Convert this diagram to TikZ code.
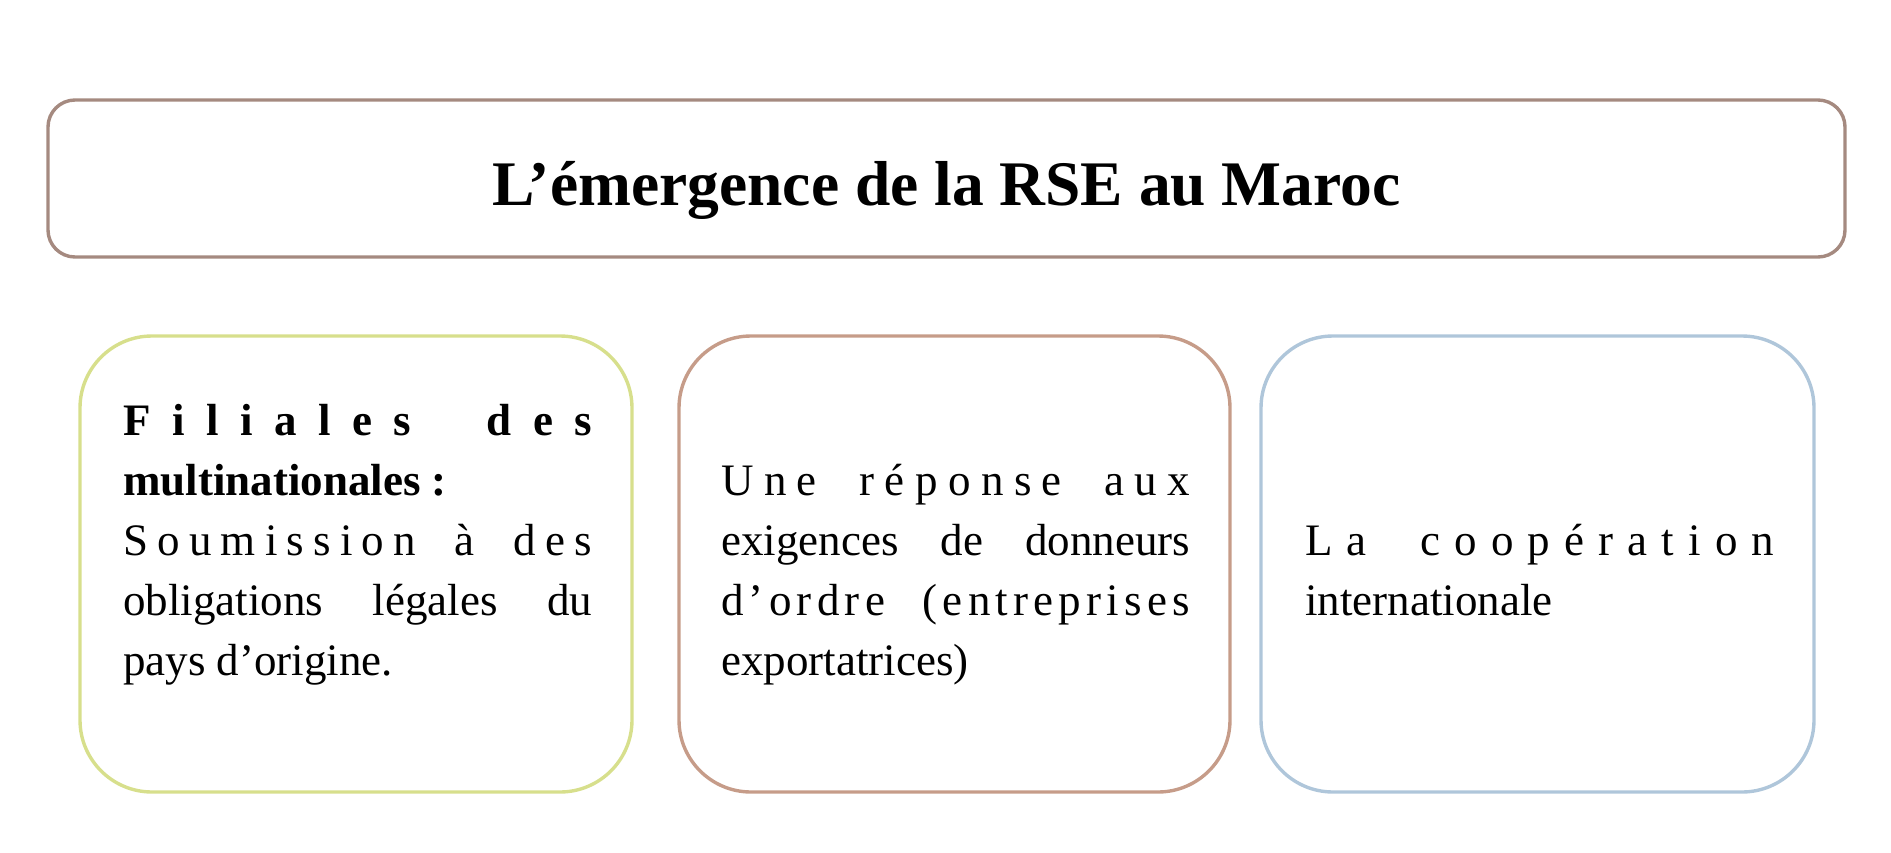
\documentclass[tikz,border=0pt]{standalone}
\usepackage{fontspec}
\setmainfont{Liberation Serif}
\definecolor{titleframe}{HTML}{A58A80}
\definecolor{yellowframe}{HTML}{D7DF8C}
\definecolor{brownframe}{HTML}{C69C89}
\definecolor{blueframe}{HTML}{AFC6DA}
\tikzset{
  titlebox/.style={draw=titleframe, line width=3.4pt, rounded corners=27pt, rectangle, inner sep=0pt},
  itembox/.style={draw=#1, line width=3.4pt, rounded corners=72pt, rectangle, inner sep=0pt,
                  minimum height=456pt},
  bodytext/.style={anchor=base west, inner sep=0pt, font=\fontsize{45}{60}\selectfont},
  titletext/.style={inner sep=0pt, font=\fontsize{63.5}{70}\selectfont\bfseries}
}
\newcommand{\linebox}[1]{\makebox[469pt][s]{#1}}
\newcommand{\wg}{\hfill\ \hfill\hfill}
\begin{document}
\begin{tikzpicture}[x=1pt,y=-1pt]
\useasboundingbox (0,0) rectangle (1891,852);
% title box
\node[titlebox, minimum width=1797pt, minimum height=157pt] (top) at (946.5,178.5) {};
\node[titletext, anchor=base] (title) at (946.5,205) {L’émergence de la RSE au Maroc};
% lower boxes
\node[itembox=yellowframe, minimum width=552pt] (b1) at (356,564) {};
\node[itembox=brownframe, minimum width=551pt] (b2) at (954.5,564) {};
\node[itembox=blueframe, minimum width=553pt] (b3) at (1537.5,564) {};
% box 1 text
\node[bodytext] (b1a) at (123,435) {\linebox{\bfseries F\hfill i\hfill l\hfill i\hfill a\hfill l\hfill e\hfill s\wg d\hfill e\hfill s}};
\node[bodytext] (b1b) at (123,495) {\bfseries multinationales~:};
\node[bodytext] (b1c) at (123,555) {\linebox{S\hfill o\hfill u\hfill m\hfill i\hfill s\hfill s\hfill i\hfill o\hfill n\wg à\wg d\hfill e\hfill s}};
\node[bodytext] (b1d) at (123,615) {\linebox{obligations légales du}};
\node[bodytext] (b1e) at (123,675) {pays d’origine.};
% box 2 text
\node[bodytext] (b2a) at (721,495) {\linebox{U\hfill n\hfill e\wg r\hfill é\hfill p\hfill o\hfill n\hfill s\hfill e\wg a\hfill u\hfill x}};
\node[bodytext] (b2b) at (721,555) {\linebox{exigences de donneurs}};
\node[bodytext] (b2c) at (721,615) {\linebox{d\hfill ’\hfill o\hfill r\hfill d\hfill r\hfill e\wg\hfill\hfill (\hfill e\hfill n\hfill t\hfill r\hfill e\hfill p\hfill r\hfill i\hfill s\hfill e\hfill s}};
\node[bodytext] (b2d) at (721,675) {exportatrices)};
% box 3 text
\node[bodytext] (b3a) at (1305,555) {\linebox{L\hfill a\wg c\hfill o\hfill o\hfill p\hfill é\hfill r\hfill a\hfill t\hfill i\hfill o\hfill n}};
\node[bodytext] (b3b) at (1305,615) {internationale};
\end{tikzpicture}
\end{document}
